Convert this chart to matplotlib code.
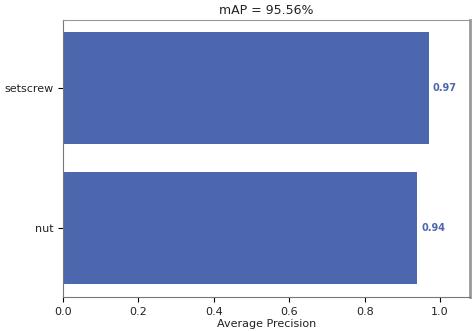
import matplotlib
matplotlib.use("Agg")
import matplotlib.pyplot as plt

classes = ["nut", "setscrew"]
ap_values = [0.94, 0.97]
mean_ap = 95.56

bar_color = "#4c67ae"

fig = plt.figure(figsize=(4.74, 3.31), dpi=100)
ax = fig.add_axes([0.133, 0.103, 0.859, 0.837])
ax.barh(classes, ap_values, color=bar_color, height=0.8)
for i, v in enumerate(ap_values):
    ax.text(v + 0.01, i, f"{v:.2f}", va="center", ha="left",
            color=bar_color, fontsize=7, fontweight="bold")
ax.set_xlim(0, 1.08)
ax.set_title(f"mAP = {mean_ap:.2f}%", fontsize=9, pad=4, color="#222222")
ax.set_xlabel("Average Precision", fontsize=8, labelpad=2, color="#222222")
ax.tick_params(labelsize=8, labelcolor="#222222")
for s in ax.spines.values():
    s.set_color("#777777")
ax.spines["top"].set_color("#999999")
ax.spines["right"].set_color("#999999")
ax.spines["right"].set_linewidth(2)
fig.savefig("out.png", dpi=100)
